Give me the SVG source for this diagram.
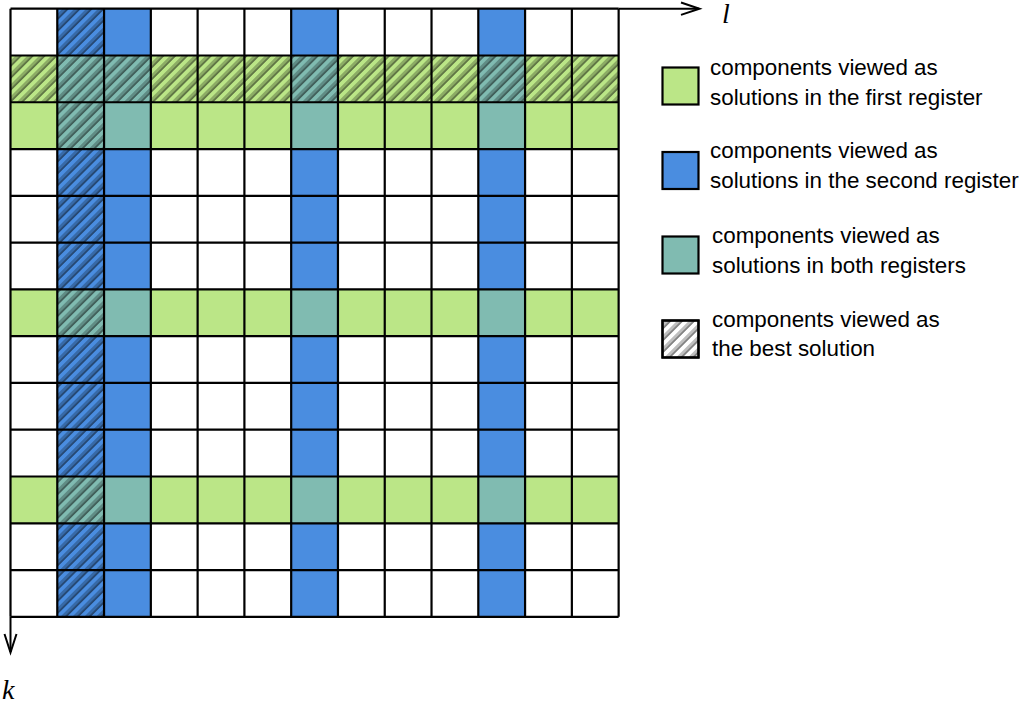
<svg xmlns="http://www.w3.org/2000/svg" width="1020" height="704" viewBox="0 0 1020 704">
<style>
.g{fill:#bbe687}
.b{fill:#4a8de0}
.t{fill:#80bbb1}
.h{fill:url(#hatch)}
.grid{fill:none;stroke:#000;stroke-width:2.2}
.axis{fill:none;stroke:#000;stroke-width:2}
.lbox{stroke:#000;stroke-width:2.2}
.lt{font-family:"Liberation Sans",Arial,sans-serif;font-size:22.4px;fill:#000}
.ax{font-family:"Liberation Serif","Times New Roman",serif;font-style:italic;font-size:28px;fill:#000}
</style>
<defs>
<pattern id="hatch" patternUnits="userSpaceOnUse" width="8.4" height="8.4" patternTransform="rotate(45)">
<rect x="0" y="0" width="3.2" height="8.4" fill="#000" fill-opacity="0.25"/>
<rect x="3.2" y="0" width="1.2" height="8.4" fill="#000" fill-opacity="0.7"/>
</pattern>
</defs>
<rect x="0" y="0" width="1020" height="704" fill="#fff"/>
<g id="matrix">
<rect class="g" x="10.5" y="55.48" width="608.14" height="93.56"/>
<rect class="g" x="10.5" y="289.38" width="608.14" height="46.78"/>
<rect class="g" x="10.5" y="476.5" width="608.14" height="46.78"/>
<rect class="b" x="57.28" y="8.7" width="93.56" height="608.14"/>
<rect class="b" x="291.18" y="8.7" width="46.78" height="608.14"/>
<rect class="b" x="478.3" y="8.7" width="46.78" height="608.14"/>
<rect class="t" x="57.28" y="55.48" width="93.56" height="93.56"/>
<rect class="t" x="291.18" y="55.48" width="46.78" height="93.56"/>
<rect class="t" x="478.3" y="55.48" width="46.78" height="93.56"/>
<rect class="t" x="57.28" y="289.38" width="93.56" height="46.78"/>
<rect class="t" x="291.18" y="289.38" width="46.78" height="46.78"/>
<rect class="t" x="478.3" y="289.38" width="46.78" height="46.78"/>
<rect class="t" x="57.28" y="476.5" width="93.56" height="46.78"/>
<rect class="t" x="291.18" y="476.5" width="46.78" height="46.78"/>
<rect class="t" x="478.3" y="476.5" width="46.78" height="46.78"/>
<rect class="h" x="10.5" y="55.48" width="608.14" height="46.78"/>
<rect class="h" x="57.28" y="8.7" width="46.78" height="46.78"/>
<rect class="h" x="57.28" y="102.26" width="46.78" height="514.58"/>
<path class="grid" d="M10.5 8.7V616.84M57.28 8.7V616.84M104.06 8.7V616.84M150.84 8.7V616.84M197.62 8.7V616.84M244.4 8.7V616.84M291.18 8.7V616.84M337.96 8.7V616.84M384.74 8.7V616.84M431.52 8.7V616.84M478.3 8.7V616.84M525.08 8.7V616.84M571.86 8.7V616.84M618.64 8.7V616.84M10.5 8.7H618.64M10.5 55.48H618.64M10.5 102.26H618.64M10.5 149.04H618.64M10.5 195.82H618.64M10.5 242.6H618.64M10.5 289.38H618.64M10.5 336.16H618.64M10.5 382.94H618.64M10.5 429.72H618.64M10.5 476.5H618.64M10.5 523.28H618.64M10.5 570.06H618.64M10.5 616.84H618.64"/>
</g>
<g id="axes">
<path class="axis" d="M618.64 8.7H699"/>
<path class="axis" d="M681 2.5L699.5 8.7L681 14.9"/>
<path class="axis" d="M10.5 616.84V652"/>
<path class="axis" d="M4.5 634L10.5 652.5L16.5 634"/>
<text class="ax" x="722" y="23">l</text>
<text class="ax" x="2" y="699">k</text>
</g>
<g id="legend-first">
<rect class="lbox g" x="662.5" y="67.5" width="36" height="37"/>
<text class="lt" x="710" y="75">components viewed as</text>
<text class="lt" x="710" y="105">solutions in the first register</text>
</g>
<g id="legend-second">
<rect class="lbox b" x="662.5" y="152" width="36" height="37"/>
<text class="lt" x="710" y="158">components viewed as</text>
<text class="lt" x="710" y="188">solutions in the second register</text>
</g>
<g id="legend-both">
<rect class="lbox t" x="662.5" y="236.5" width="36" height="37"/>
<text class="lt" x="712" y="243">components viewed as</text>
<text class="lt" x="712" y="273">solutions in both registers</text>
</g>
<g id="legend-best">
<rect class="lbox" x="662.5" y="320.5" width="36" height="37" fill="#fff"/>
<rect x="662.5" y="320.5" width="36" height="37" fill="url(#hatch)"/>
<rect class="lbox" x="662.5" y="320.5" width="36" height="37" fill="none"/>
<text class="lt" x="712" y="327">components viewed as</text>
<text class="lt" x="712" y="356">the best solution</text>
</g>
</svg>
